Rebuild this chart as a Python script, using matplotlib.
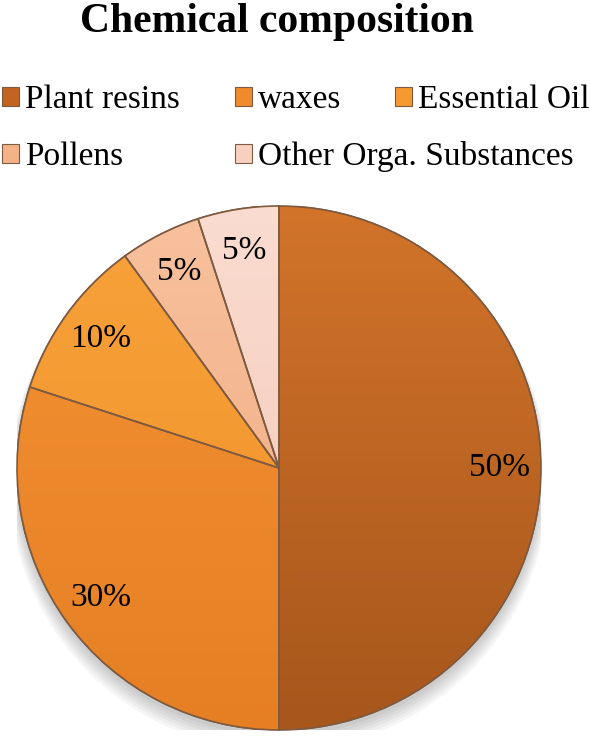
import matplotlib.pyplot as plt
import matplotlib.colors as mcolors
import matplotlib.patches as mpatches
import numpy as np

plt.rcParams['font.family'] = ['Liberation Serif', 'DejaVu Serif']

labels = ['Plant resins', 'waxes', 'Essential Oil', 'Pollens', 'Other Orga. Substances']
values = [50, 30, 10, 5, 5]
colors = ['#C26320', '#F08A2B', '#F6992F', '#F4B287', '#F7D0C0']
top_colors = ['#D2742A', '#F39334', '#F8A23A', '#F8C19E', '#FADCD0']
bottom_colors = ['#A7561C', '#E67F24', '#F0902A', '#EFA87C', '#F2C5B3']
edge_col = '#7E5A40'

fig = plt.figure(figsize=(5.9, 7.49), dpi=100)
# pie centred near (279, 468) px with radius ~262 px
ax = fig.add_axes([17 / 590, 19 / 749, 524 / 590, 524 / 749])

wedges, texts, autotexts = ax.pie(
    values, colors=colors, startangle=90, counterclock=False,
    autopct='%1.0f%%', pctdistance=0.84,
    wedgeprops=dict(edgecolor=edge_col, linewidth=1.2),
    textprops=dict(fontsize=24, color='black'))
ax.set_aspect('equal')

# faint drop shadow under the pie
for k in range(6):
    ax.add_patch(mpatches.Circle((0, -0.02 - 0.006 * k), 1.0 + 0.006 * k, facecolor='black',
                                 alpha=0.035, edgecolor='none', zorder=0))

# soft vertical gradient inside each slice
for w, c1, c2 in zip(wedges, top_colors, bottom_colors):
    c1 = np.array(mcolors.to_rgb(c1))
    c2 = np.array(mcolors.to_rgb(c2))
    t = np.linspace(0, 1, 256)[:, None, None]
    img = np.repeat(c1 * (1 - t) + c2 * t, 2, axis=1)
    im = ax.imshow(img, extent=[-1, 1, -1, 1], origin='upper',
                   zorder=w.get_zorder() + 0.1, aspect='auto')
    im.set_clip_path(w)
    ax.add_patch(mpatches.Wedge(w.center, w.r, w.theta1, w.theta2, fill=False,
                                edgecolor=edge_col, linewidth=1.2,
                                zorder=w.get_zorder() + 0.2))
ax.set_xlim(-1.0, 1.0)
ax.set_ylim(-1.0, 1.0)
for t in autotexts:
    t.set_zorder(5)

fig.text(277 / 590, 1 - 22 / 749, 'Chemical composition', ha='center', va='center',
         fontsize=30, fontweight='bold')

# legend laid out row by row like the original
anchors = [(2, 100), (235, 100), (395, 100), (2, 157), (235, 157)]
for w, lab, (x, y) in zip(wedges, labels, anchors):
    h = mpatches.Patch(facecolor=w.get_facecolor(), edgecolor=edge_col, linewidth=0.8)
    fig.legend([h], [lab], loc='center left', bbox_to_anchor=(x / 590, 1 - y / 749),
               frameon=False, fontsize=24, handlelength=0.5, handleheight=0.5,
               handletextpad=0.2, borderaxespad=0, borderpad=0)

fig.savefig('out.png', dpi=100)
